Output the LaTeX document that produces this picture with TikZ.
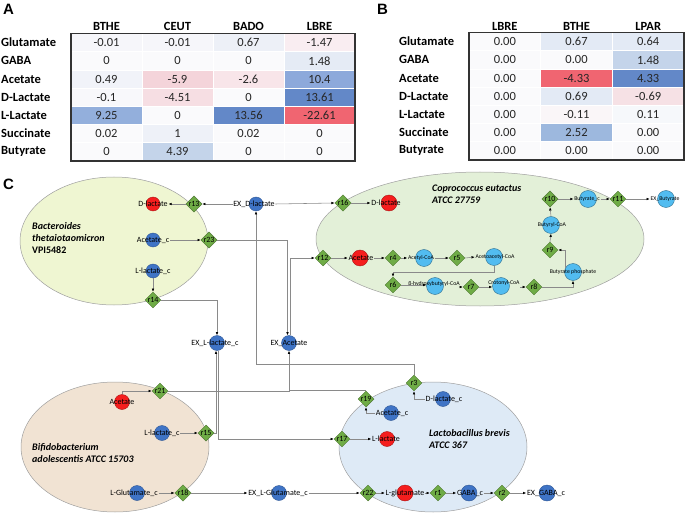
\documentclass[tikz,border=0pt]{standalone}
\usepackage{fontspec}
\setmainfont{Carlito}
\newfontfamily\arialb{Liberation Sans}
\usetikzlibrary{arrows.meta,shapes.geometric}
\definecolor{dblue}{HTML}{3F74C6}
\definecolor{lblue}{HTML}{52BCF0}
\definecolor{mred}{HTML}{F51E1E}
\definecolor{rgreen}{HTML}{6FAC46}
\definecolor{lgray}{HTML}{8A8A8A}
\definecolor{ebt}{HTML}{EFF6D2}
\definecolor{ecp}{HTML}{E3F0D8}
\definecolor{ebf}{HTML}{F1E3D3}
\definecolor{elb}{HTML}{DEEAF6}
\begin{document}
\begin{tikzpicture}[x=1pt,y=-1pt,
  met/.style={circle, minimum size=15pt, inner sep=0pt, line width=0.4pt},
  dmet/.style={met, fill=dblue, draw=dblue!75!black},
  rmet/.style={met, fill=mred, draw=mred!70!black},
  lmet/.style={met, minimum size=17pt, fill=lblue, draw=lblue!60!black},
  rxn/.style={diamond, aspect=1, minimum width=16pt, minimum height=16pt, inner sep=0pt, fill=rgreen, draw=rgreen!70!black, line width=0.4pt, font=\fontsize{8}{8}\selectfont},
  lab/.style={inner sep=0.6pt, font=\fontsize{8}{8}\selectfont},
  slab/.style={inner sep=0.6pt, font=\fontsize{5.8}{6}\selectfont},
  ln/.style={draw=lgray, line width=0.55pt},
  conn/.style={ln, -{Latex[length=3.2pt,width=2.6pt,color=black]}},
  org/.style={font=\fontsize{10}{12}\selectfont\bfseries\itshape, align=left, anchor=west, inner sep=0pt},
  cell/.style={minimum height=18.21pt, inner sep=0pt, draw=white, line width=0.8pt, font=\fontsize{12.5}{14}\selectfont, text=black!85},
  hdr/.style={font=\fontsize{12.5}{14}\selectfont\bfseries, inner sep=0pt},
  panel/.style={font=\arialb\fontsize{15}{16}\selectfont\bfseries, inner sep=0pt, anchor=north west},
  ell/.style={ellipse, draw=gray!75, line width=0.5pt}]
\useasboundingbox (0,0) rectangle (685,513);

% ---------------- Panel A ----------------
\node[panel] (pA) at (3,3.5) {A};
\foreach \t [count=\c] in {BTHE,CEUT,BADO,LBRE}
  \node[hdr] (ah-\c) at ({71+71*(\c-0.5)},26) {\t};
\foreach \r/\lab/\vals in {
1/Glutamate/{-0.01/F6F6FA,-0.01/F6F6FA,0.67/EDF0F7,-1.47/F9EDF1},
2/GABA/{0/FAFAFC,0/FAFAFC,0/FAFAFC,1.48/E5EBF5},
3/Acetate/{0.49/F1F3F9,-5.9/F4D4DA,-2.6/F8E5E9,10.4/8DA9DB},
4/D-Lactate/{-0.1/F8F8FB,-4.51/F6DEE3,0/FAFAFC,13.61/6388C8},
5/L-Lactate/{9.25/93AFDC,0/FAFAFC,13.56/6388C8,-22.61/F06571},
6/Succinate/{0.02/FAFAFC,1/EEF1F8,0.02/FAFAFC,0/FAFAFC},
7/Butyrate/{0/FAFAFC,4.39/C4D4EA,0/FAFAFC,0/FAFAFC}}{
  \node[hdr, anchor=west] (al-\r) at (1, {33.5+18.21*(\r-0.5)}) {\lab};
  \foreach \v/\h [count=\c] in \vals {
    \edef\tmpcol{\noexpand\definecolor{cc}{HTML}{\h}}\tmpcol
    \node[cell, minimum width=71pt, fill=cc] (a-\r-\c) at ({71+71*(\c-0.5)}, {33.5+18.21*(\r-0.5)}) {\v};
  }
}
\draw[line width=1.1pt, black!80] (71,33.5) rectangle (355,161);

% ---------------- Panel B ----------------
\node[panel] (pB) at (377,3.5) {B};
\foreach \t [count=\c] in {LBRE,BTHE,LPAR}
  \node[hdr] (bh-\c) at ({469+71.67*(\c-0.5)},26) {\t};
\foreach \r/\lab/\vals in {
1/Glutamate/{0.00/FAFAFC,0.67/E3EAF5,0.64/E3EAF5},
2/GABA/{0.00/FAFAFC,0.00/FAFAFC,1.48/C4D4EA},
3/Acetate/{0.00/FAFAFC,-4.33/F06571,4.33/6388C8},
4/D-Lactate/{0.00/FAFAFC,0.69/E3EAF5,-0.69/F6E1E5},
5/L-Lactate/{0.00/FAFAFC,-0.11/FAF6F8,0.11/F6F8FB},
6/Succinate/{0.00/FAFAFC,2.52/9DB8DE,0.00/FAFAFC},
7/Butyrate/{0.00/FAFAFC,0.00/FAFAFC,0.00/FAFAFC}}{
  \node[hdr, anchor=west] (bl-\r) at (399, {32.5+18.21*(\r-0.5)}) {\lab};
  \foreach \v/\h [count=\c] in \vals {
    \edef\tmpcol{\noexpand\definecolor{cc}{HTML}{\h}}\tmpcol
    \node[cell, minimum width=71.67pt, fill=cc] (b-\r-\c) at ({469+71.67*(\c-0.5)}, {32.5+18.21*(\r-0.5)}) {\v};
  }
}
\draw[line width=1.1pt, black!80] (469,32.5) rectangle (684,160);

% ---------------- Panel C ----------------
\node[panel] (pC) at (3,178.5) {C};
\node[ell, fill=ebt, minimum width=188pt, minimum height=128pt] (eBT) at (114,241) {};
\node[ell, fill=ecp, minimum width=328pt, minimum height=134pt] (eCP) at (480,239) {};
\node[ell, fill=ebf, minimum width=188pt, minimum height=130pt] (eBF) at (115,447) {};
\node[ell, fill=elb, minimum width=188pt, minimum height=130pt] (eLB) at (433,447) {};

\node[org] (tBT) at (32,238) {Bacteroides\\thetaiotaomicron\\\upshape VPI5482};
\node[org] (tCP) at (432,194) {Coprococcus eutactus\\ATCC 27759};
\node[org] (tBF) at (32,453) {Bifidobacterium\\adolescentis ATCC 15703};
\node[org] (tLB) at (429,439) {Lactobacillus brevis\\ATCC 367};

% Bacteroides
\node[rmet, minimum size=14pt] (DlacA) at (153,204) {}; \node[lab] (DlacAl) at (153,204) {D-lactate};
\node[rxn] (r13) at (194,204) {r13};
\node[dmet, minimum size=14pt] (EXDl) at (256,204) {}; \node[lab] (EXDll) at (254,204) {EX\_D-lactate};
\node[dmet, minimum size=14pt] (AcBT) at (153,240) {}; \node[lab] (AcBTl) at (153,240) {Acetate\_c};
\node[rxn] (r23) at (209,240) {r23};
\node[dmet, minimum size=14pt] (LlBT) at (153,271) {}; \node[lab] (LlBTl) at (153,271) {L-lactate\_c};
\node[rxn] (r14) at (153,300) {r14};
\node[dmet] (EXLl) at (217,343) {}; \node[lab] (EXLll) at (215,343) {EX\_L-lactate\_c};
\node[dmet] (EXAc) at (289,343) {}; \node[lab] (EXAcl) at (289,343) {EX\_Acetate};

% Coprococcus
\node[rxn] (r16) at (343,203) {r16};
\node[rmet, minimum size=16pt] (DlacB) at (389,203) {}; \node[lab] (DlacBl) at (386,203) {D-lactate};
\node[rxn] (r12) at (323,258) {r12};
\node[rmet, minimum size=16pt] (AcCP) at (360,258) {}; \node[lab] (AcCPl) at (361,258) {Acetate};
\node[rxn] (r4) at (393,258) {r4};
\node[lmet] (AcoA) at (424,258) {}; \node[slab] (AcoAl) at (421,258) {Acetyl-CoA};
\node[rxn] (r5) at (457,258) {r5};
\node[lmet] (AAcoA) at (494,257) {}; \node[slab] (AAcoAl) at (495,257) {Acetoacetyl-CoA};
\node[rxn] (r6) at (393,285) {r6};
\node[lmet] (bHB) at (435,286) {}; \node[slab] (bHBl) at (434,284) {β-hydroxybutyryl-CoA};
\node[rxn] (r7) at (471,287) {r7};
\node[lmet] (Cro) at (501,286) {}; \node[slab] (Crol) at (504,283) {Crotonyl-CoA};
\node[rxn] (r8) at (534,287) {r8};
\node[lmet] (ButP) at (573,272) {}; \node[slab] (ButPl) at (573,272) {Butyrate phosphate};
\node[rxn] (r9) at (550,250) {r9};
\node[lmet] (BcoA) at (551,225) {}; \node[slab] (BcoAl) at (552,225) {Butyryl-CoA};
\node[rxn] (r10) at (550,199) {r10};
\node[lmet] (Butc) at (588,199) {}; \node[slab] (Butcl) at (587,199) {Butyrate\_c};
\node[rxn] (r11) at (618,199) {r11};
\node[lmet] (EXBu) at (666,199) {}; \node[slab] (EXBul) at (665,199) {EX\_Butyrate};

% Bifidobacterium
\node[rmet] (AcBF) at (122,402) {}; \node[lab] (AcBFl) at (122,402) {Acetate};
\node[rxn] (r21) at (160,391) {r21};
\node[dmet] (LlBF) at (162,433) {}; \node[lab] (LlBFl) at (162,433) {L-lactate\_c};
\node[rxn] (r15) at (206,433) {r15};
\node[dmet] (Glu) at (137,493) {}; \node[lab] (Glul) at (134,493) {L-Glutamate\_c};
\node[rxn] (r18) at (183,493) {r18};
\node[dmet] (EXGlu) at (279,493) {}; \node[lab] (EXGlul) at (278,493) {EX\_L-Glutamate\_c};

% Lactobacillus
\node[rxn] (r3) at (414,383) {r3};
\node[dmet] (DlLB) at (443,399) {}; \node[lab] (DlLBl) at (444,399) {D-lactate\_c};
\node[rxn] (r19) at (366,399) {r19};
\node[dmet] (AcLB) at (391,413) {}; \node[lab] (AcLBl) at (392,413) {Acetate\_c};
\node[rxn] (r17) at (342,439) {r17};
\node[rmet] (LlLB) at (387,439) {}; \node[lab] (LlLBl) at (386,439) {L-lactate};
\node[rxn] (r22) at (368,493) {r22};
\node[rmet, minimum size=16pt] (LgLB) at (405,493) {}; \node[lab] (LgLBl) at (405,493) {L-glutamate};
\node[rxn] (r1) at (438,493) {r1};
\node[dmet, minimum size=16pt] (GABA) at (469,493) {}; \node[lab] (GABAl) at (470,493) {GABA\_c};
\node[rxn] (r2) at (502,493) {r2};
\node[dmet, minimum size=16pt] (EXGABA) at (547,493) {}; \node[lab] (EXGABAl) at (546,493) {EX\_GABA\_c};

\coordinate (k1) at (393,272);
\coordinate (k2) at (256,364);

% connectors
\draw[conn] (EXDll.west) -- (r13.east);
\draw[conn] (r13.west) -- (DlacAl.east);
\draw[conn] (AcBTl.east) -- (r23.west);
\draw[conn] (LlBT.south) -- (r14.north);
\draw[conn] (r14.east) -| (EXLl.north);
\draw[conn] (r23.east) -| ([xshift=-1.5pt]EXAc.north);
\draw[conn] ([xshift=1.5pt]EXAc.north) |- (r12.west);
\draw[conn] (EXDll.east) -- (r16.west);
\draw[conn] (r16.east) -- (DlacBl.west);
\draw[conn] (r12.east) -- (AcCPl.west);
\draw[conn] (AcCPl.east) -- (r4.west);
\draw[conn] (r4.east) -- (AcoAl.west);
\draw[conn] (AcoAl.east) -- (r5.west);
\draw[conn] (r5.east) -- (AAcoAl.west);
\draw[conn] (AAcoA.south) |- (k1) -- (r6.north);
\draw[conn] (r6.east) -- (r6.east -| bHB.west);
\draw[conn] (bHBl.east |- r7.west) -- (r7.west);
\draw[conn] (r7.east) -- (r7.east -| Cro.west);
\draw[conn] (Crol.east |- r8.west) -- (r8.west);
\draw[conn] (r8.east) -| (ButP.south);
\draw[conn] (ButP.150) |- (r9.east);
\draw[conn] (r9.north) -- (BcoA.south);
\draw[conn] (BcoA.north) -- (r10.south);
\draw[conn] (r10.east) -- (Butcl.west);
\draw[conn] (Butcl.east) -- (r11.west);
\draw[conn] (r11.east) -- (EXBul.west);
\draw[conn] (AcBF.north) |- (r21.west);
\draw[conn] (LlBFl.east) -- (r15.west);
\draw[conn] (r15.east) -| ([xshift=-1pt]EXLl.south);
\draw[conn] ([xshift=1pt]EXLl.south) |- (r17.west);
\draw[conn] (r21.east) -| (EXAc.south);
\draw[ln] (r19.north) -- (r19.north -| EXAc.south);
\draw[conn] (AcLBl.west) -| (r19.south);
\draw[conn] (DlLBl.west) -| (r3.south);
\draw[conn] (r3.north) |- (k2) -- (EXDl.south);
\draw[conn] (r17.east) -- (LlLBl.west);
\draw[conn] (Glul.east) -- (r18.west);
\draw[conn] (r18.east) -- (EXGlul.west);
\draw[conn] (EXGlul.east) -- (r22.west);
\draw[conn] (r22.east) -- (LgLBl.west);
\draw[conn] (LgLBl.east) -- (r1.west);
\draw[conn] (r1.east) -- (GABAl.west);
\draw[conn] (GABAl.east) -- (r2.west);
\draw[conn] (r2.east) -- (EXGABAl.west);
\end{tikzpicture}
\end{document}
